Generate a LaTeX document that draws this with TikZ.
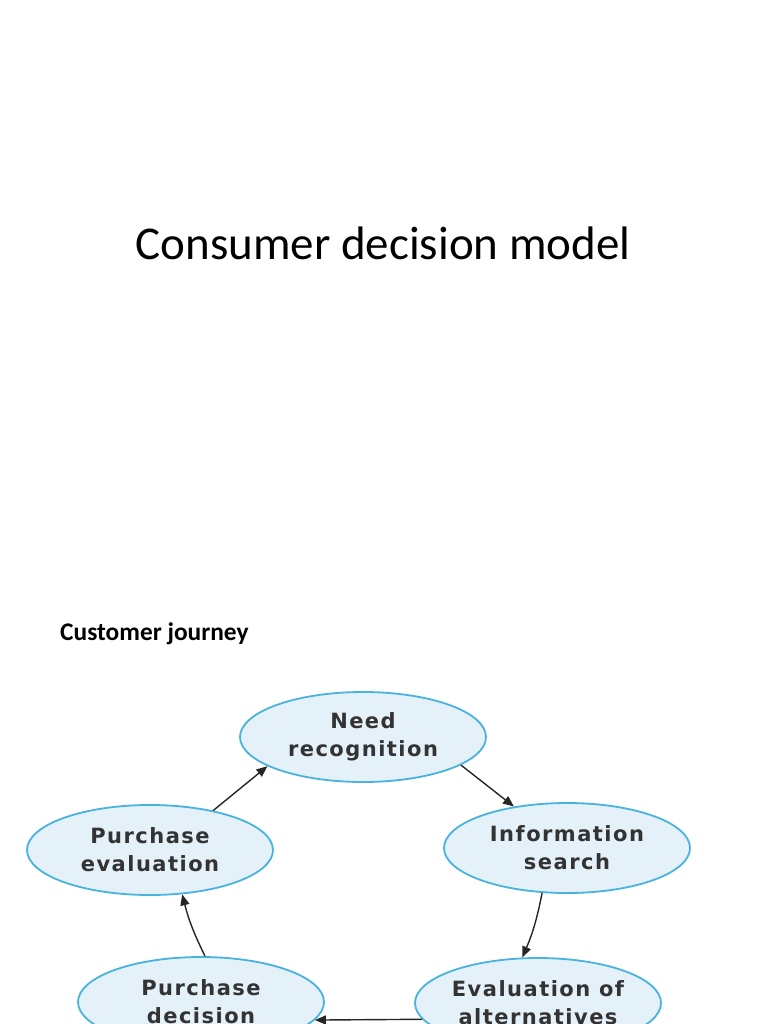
\documentclass[tikz,border=0pt]{standalone}
\usepackage{fontspec}
\setmainfont{Carlito}
\newfontfamily\diagfont[LetterSpace=7]{DejaVu Sans Bold}
\usetikzlibrary{arrows.meta,shapes.geometric}
\definecolor{ellfill}{HTML}{E5F1F8}
\definecolor{elldraw}{HTML}{48B3DE}
\definecolor{elltext}{HTML}{333333}
\tikzset{
  stage/.style={ellipse, draw=elldraw, fill=ellfill, line width=1.8pt,
    minimum width=246pt, minimum height=90pt, inner sep=0pt, align=center,
    text=elltext, font=\diagfont\fontsize{21}{28}\selectfont},
  flow/.style={-{Triangle[length=11pt,width=9pt]}, line width=1.4pt, draw=black!85}
}
\begin{document}
\begin{tikzpicture}[x=1pt,y=-1pt]
\useasboundingbox (0,0) rectangle (768,1024);
\clip (0,0) rectangle (768,1024);
\node[font=\fontsize{47}{56}\selectfont, anchor=base] (title) at (383,259) {Consumer decision model};
\node[font=\bfseries\fontsize{25.4}{30}\selectfont, anchor=base west, inner sep=0pt] (journey) at (60,640) {Customer journey};

\node[stage] (need) at (363,737) {Need\\recognition};
\node[stage] (info) at (567,848) {Information\\search};
\node[stage] (eval) at (538,1003) {Evaluation of\\alternatives};
\node[stage] (dec) at (201,1002) {Purchase\\decision};
\node[stage] (peval) at (150,850) {Purchase\\evaluation};

\draw[flow] (need.-16) -- (info.142);
\draw[flow] (info.-119) to[bend left=6] (eval.109);
\draw[flow] (eval.-172) -- (dec.-9);
\draw[flow] (dec.85) to[bend left=6] (peval.-54);
\draw[flow] (peval.32) -- (need.-163);
\end{tikzpicture}
\end{document}
